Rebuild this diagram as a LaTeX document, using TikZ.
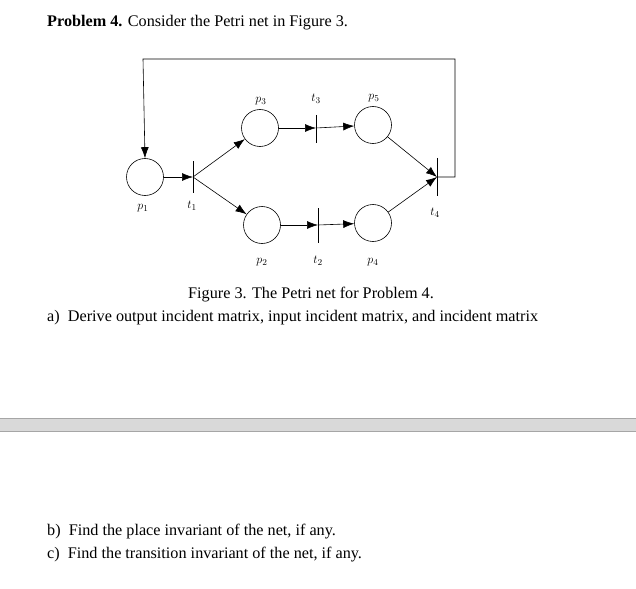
\documentclass[tikz,border=0pt]{standalone}
\usepackage{fontspec}
\setmainfont{Liberation Serif}
\usetikzlibrary{arrows.meta}
\begin{document}
\begin{tikzpicture}[x=1pt,y=-1pt,
  place/.style={draw,circle,minimum size=37pt,inner sep=0pt,line width=0.6pt},
  arc/.style={-{Latex[length=11pt,width=8pt]},line width=0.6pt},
  lab/.style={font=\fontsize{12.5}{13}\selectfont},
  txt/.style={anchor=west,font=\fontsize{16.2}{18}\selectfont,inner sep=0pt}]
\useasboundingbox (0,0) rectangle (636,588);
\fill[gray!30] (0,418) rectangle (636,431);
\draw[gray!70] (0,418) -- (636,418) (0,431) -- (636,431);
\node[txt] (title) at (47,23) {\textbf{Problem 4.} Consider the Petri net in Figure 3.};
\node[font=\fontsize{16.2}{18}\selectfont,inner sep=0pt] (cap) at (311,295) {Figure 3. The Petri net for Problem 4.};
\node[txt] (qa) at (47,318) {a)\ \ Derive output incident matrix, input incident matrix, and incident matrix};
\node[txt] (qb) at (47,532) {b)\ \ Find the place invariant of the net, if any.};
\node[txt] (qc) at (47,555) {c)\ \ Find the transition invariant of the net, if any.};
% places
\node[place] (p1) at (145,177) {};
\node[place] (p3) at (260,128) {};
\node[place] (p2) at (262,225) {};
\node[place] (p5) at (373,125) {};
\node[place] (p4) at (373,223) {};
% transitions
\coordinate (t1) at (193,177);
\coordinate (t3) at (316,128);
\coordinate (t2) at (318,225);
\coordinate (t4) at (437,177);
\draw[line width=0.6pt] (193,161) -- (193,193);
\draw[line width=0.6pt] (316,115) -- (316,143);
\draw[line width=0.6pt] (318,208) -- (318,243);
\draw[line width=0.6pt] (437,158) -- (437,196);
% arcs
\draw[arc] (p1) -- (t1);
\draw[arc] (t1) -- (p3);
\draw[arc] (t1) -- (p2);
\draw[arc] (p3) -- (t3);
\draw[arc] (t3) -- (p5);
\draw[arc] (p2) -- (t2);
\draw[arc] (t2) -- (p4);
\draw[arc] (p5) -- (t4);
\draw[arc] (p4) -- (t4);
\draw[arc] (t4) -- (455,177) -- (455,59) -- (143,59) -- (p1.north);
% labels
\node[lab] (lp3) at (261,101) {$p_3$};
\node[lab] (lt3) at (316,99) {$t_3$};
\node[lab] (lp5) at (374,98) {$p_5$};
\node[lab] (lp1) at (143,208) {$p_1$};
\node[lab] (lt1) at (192,206) {$t_1$};
\node[lab] (lt4) at (435,213) {$t_4$};
\node[lab] (lp2) at (262,262) {$p_2$};
\node[lab] (lt2) at (318,261) {$t_2$};
\node[lab] (lp4) at (373,262) {$p_4$};
\end{tikzpicture}
\end{document}
